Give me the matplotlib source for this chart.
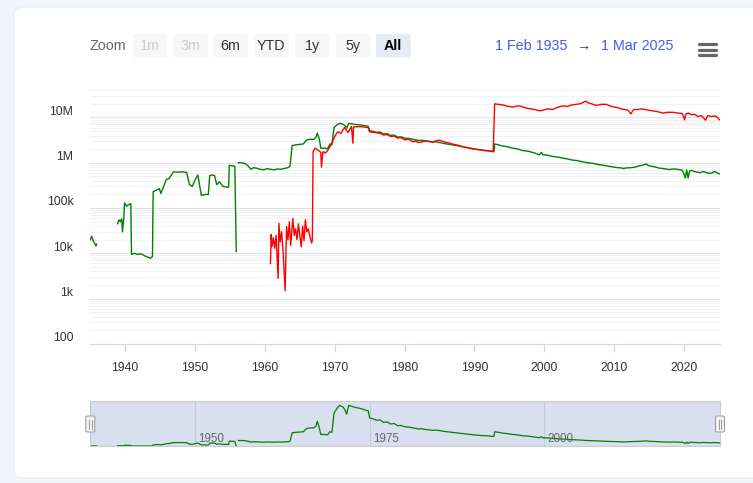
import numpy as np
import matplotlib
matplotlib.use('Agg')
import matplotlib.pyplot as plt
from matplotlib.patches import FancyBboxPatch
from matplotlib.lines import Line2D
from matplotlib.ticker import LogLocator, NullFormatter
from matplotlib.transforms import blended_transform_factory, ScaledTranslation

plt.rcParams['font.family'] = ['Liberation Sans', 'DejaVu Sans']

nan = np.nan

# green series (year, value)
green_years = [1935.0, 1935.2, 1935.4, 1935.6, 1935.8, 1935.9, 1936.5,
               1938.9, 1939.1, 1939.3, 1939.5, 1939.6, 1939.8, 1939.9, 1940.2, 1940.5, 1940.8,
               1940.9, 1941.3, 1941.8, 1942.3, 1942.8, 1943.3, 1943.6, 1943.9,
               1944.0, 1944.5, 1944.9, 1945.1, 1945.5, 1945.9, 1946.3, 1946.9, 1947.5, 1948.2,
               1948.8, 1949.2, 1949.6, 1950.0, 1950.4, 1950.9, 1951.5, 1951.9, 1952.1, 1952.5,
               1952.8, 1953.1, 1953.5, 1954.0, 1954.5, 1954.8, 1954.9, 1955.3, 1955.7, 1955.9,
               1956.0,
               1956.2, 1956.8, 1957.2, 1957.6, 1958.0, 1958.4, 1958.8, 1959.3, 1959.8, 1960.3,
               1960.8, 1961.3, 1961.8, 1962.3, 1962.8, 1963.3, 1963.6, 1963.9, 1964.5, 1965.0,
               1965.5, 1966.0, 1966.5, 1967.0, 1967.3, 1967.5, 1967.8, 1968.0, 1968.5, 1969.0,
               1969.3, 1969.6, 1969.9, 1970.3, 1970.7, 1971.2, 1971.5, 1971.7, 1972.0, 1972.5,
               1973.0, 1973.5, 1974.0, 1974.8,
               1975.0, 1975.5, 1976.0, 1976.5, 1977.0, 1977.5, 1978.0, 1978.5, 1979.0, 1979.5,
               1980.0, 1980.6, 1981.2, 1981.6, 1982.0, 1982.5, 1983.0, 1983.5, 1984.0, 1984.5,
               1985.0, 1985.5, 1986.0, 1986.5, 1987.0, 1987.5, 1988.0, 1988.5, 1989.0, 1989.5,
               1990.0, 1990.5, 1991.0, 1991.5, 1992.0, 1992.4, 1992.8, 1992.9, 1993.4, 1994.0,
               1994.5, 1995.0, 1995.5, 1996.0, 1996.5, 1997.0, 1997.5, 1998.0, 1998.6, 1999.3,
               1999.6, 1999.8, 2000.4, 2001.0, 2001.6, 2002.2, 2002.7, 2003.3, 2004.0, 2004.7,
               2005.5, 2006.2, 2006.8, 2007.4, 2008.0, 2008.5, 2009.0, 2009.6, 2010.0, 2010.5,
               2011.0, 2011.3, 2011.8, 2012.5, 2013.0, 2013.5, 2014.0, 2014.6, 2015.0, 2015.5,
               2016.0, 2016.5, 2017.2, 2017.9, 2018.5, 2019.0, 2019.5, 2019.8, 2020.2, 2020.4,
               2020.6, 2020.8, 2021.1, 2021.5, 2022.0, 2022.3, 2022.7, 2023.1, 2023.5, 2024.0,
               2024.3, 2024.6, 2024.9, 2025.1]
green_values = [20000, 24000, 19000, 17000, 14500, 16000, nan,
                45000, 55000, 50000, 58000, 30000, 60000, 130000, 110000, 120000, 125000,
                9500, 10000, 9500, 9800, 8800, 8200, 7800, 8500,
                230000, 250000, 270000, 210000, 300000, 430000, 450000, 630000, 620000, 630000,
                610000, 330000, 300000, 420000, 540000, 190000, 200000, 200000, 520000, 540000,
                520000, 330000, 380000, 300000, 290000, 290000, 880000, 860000, 830000, 11000,
                nan,
                1000000, 1000000, 950000, 850000, 720000, 780000, 760000, 720000, 700000, 740000,
                720000, 700000, 730000, 720000, 750000, 780000, 850000, 2400000, 2500000, 2550000,
                2600000, 3200000, 3300000, 3300000, 3600000, 4500000, 3300000, 2100000, 2100000, 2050000,
                2600000, 2500000, 6000000, 6800000, 7400000, 7100000, 6500000, 5800000, 7400000, 7200000,
                7000000, 6900000, 6700000, 6400000,
                5100000, 4950000, 4700000, 4750000, 4300000, 4400000, 4000000, 4100000, 3700000, 3750000,
                3500000, 3450000, 3300000, 3200000, 3100000, 3150000, 3000000, 2950000, 2850000, 2900000,
                2800000, 2700000, 2600000, 2550000, 2450000, 2400000, 2300000, 2250000, 2150000, 2100000,
                2000000, 1980000, 1900000, 1870000, 1850000, 1780000, 1750000, 2600000, 2500000, 2350000,
                2300000, 2200000, 2100000, 2050000, 1950000, 1850000, 1820000, 1750000, 1650000, 1500000,
                1700000, 1500000, 1480000, 1400000, 1350000, 1320000, 1260000, 1220000, 1150000, 1120000,
                1050000, 1000000, 980000, 940000, 900000, 880000, 850000, 820000, 800000, 780000,
                770000, 750000, 770000, 780000, 800000, 850000, 880000, 940000, 860000, 830000,
                800000, 760000, 740000, 710000, 730000, 720000, 700000, 680000, 460000, 700000,
                460000, 650000, 680000, 640000, 620000, 600000, 640000, 620000, 590000, 590000,
                640000, 620000, 580000, 570000]

# red series (year, value)
red_years = [1960.8, 1960.9, 1961.0, 1961.2, 1961.4, 1961.6, 1961.9, 1962.0, 1962.2, 1962.4,
             1962.6, 1962.9, 1963.1, 1963.3, 1963.5, 1963.7, 1964.0, 1964.2, 1964.4, 1964.6,
             1964.8, 1965.2, 1965.4, 1965.6, 1965.8, 1966.0, 1966.2, 1966.5, 1966.7, 1966.8,
             1966.9, 1967.2, 1967.6, 1968.0, 1968.1, 1968.3, 1968.7, 1969.0, 1969.5, 1970.0,
             1970.4, 1970.9, 1971.4, 1971.9, 1972.4, 1972.6, 1972.7, 1973.5, 1974.8,
             1975.0, 1975.6, 1976.0, 1976.6, 1977.0, 1977.5, 1978.0, 1978.5, 1979.0, 1979.5,
             1980.0, 1980.6, 1981.2, 1981.6, 1982.0, 1982.6, 1983.1, 1983.6, 1984.0, 1984.5,
             1985.0, 1985.5, 1986.0, 1986.5, 1987.0, 1987.6, 1988.4, 1989.0, 1989.5, 1990.0,
             1990.5, 1991.0, 1991.5, 1992.1, 1992.7,
             1992.9, 1993.5, 1994.0, 1994.6, 1995.0, 1995.5, 1996.0, 1996.5, 1997.0, 1997.5,
             1998.0, 1998.6, 1999.3, 1999.8, 2000.5, 2001.2, 2001.8, 2002.3, 2002.7, 2003.3,
             2004.0, 2004.6, 2005.1, 2005.6, 2005.9, 2006.3, 2006.8, 2007.2, 2007.5, 2008.2,
             2008.9, 2009.4, 2010.0, 2010.5, 2011.0, 2011.5, 2012.0, 2012.4, 2012.8, 2013.4,
             2014.0, 2014.6, 2015.5, 2016.2, 2017.0, 2017.6, 2018.5, 2019.2, 2019.8, 2020.1,
             2020.3, 2020.7, 2021.0, 2021.5, 2022.0, 2022.5, 2023.1, 2023.4, 2023.9, 2024.5,
             2024.8, 2025.1]
red_values = [6000, 26000, 14000, 22000, 13000, 25000, 2800, 46000, 18000, 30000,
              11000, 1500, 39000, 20000, 50000, 15000, 59000, 25000, 35000, 20000,
              45000, 14000, 40000, 19000, 55000, 30000, 35000, 22000, 17000, 20000,
              1750000, 2100000, 1900000, 1700000, 800000, 1750000, 1650000, 1900000, 2500000, 3800000,
              4800000, 4500000, 6000000, 4700000, 6300000, 2700000, 6200000, 6300000, 6000000,
              4800000, 4700000, 4600000, 4400000, 4100000, 4200000, 3800000, 3900000, 3500000, 3600000,
              3200000, 3300000, 2900000, 3000000, 2800000, 2900000, 3050000, 2950000, 2900000, 3050000,
              3150000, 2950000, 2800000, 2700000, 2550000, 2450000, 2250000, 2150000, 2050000, 2000000,
              1950000, 1920000, 1850000, 1830000, 1800000,
              20000000, 19500000, 19000000, 18000000, 17500000, 17000000, 17800000, 18000000, 17000000, 16000000,
              15500000, 15000000, 14000000, 14500000, 15500000, 15000000, 16500000, 17500000, 18000000, 17500000,
              19000000, 19500000, 20000000, 21500000, 23000000, 21000000, 20000000, 19000000, 18500000, 19500000,
              19500000, 18000000, 17000000, 16500000, 15500000, 15000000, 14500000, 12000000, 15000000, 15000000,
              15500000, 14800000, 14000000, 13500000, 12500000, 13000000, 13000000, 12500000, 12200000, 8800000,
              12000000, 12500000, 11500000, 11800000, 10500000, 11000000, 8700000, 11000000, 10500000, 10800000,
              10000000, 8900000]

y_ticks = [1e2, 1e3, 1e4, 1e5, 1e6, 1e7]
y_labels = ['100', '1k', '10k', '100k', '1M', '10M']
x_ticks = list(range(1940, 2021, 10))
nav_ticks = [1950, 1975, 2000]
buttons = ['1m', '3m', '6m', 'YTD', '1y', '5y', 'All']

W, H = 753, 483


def fx(x):
    return x / W


def fy(y):
    return 1 - y / H


fig = plt.figure(figsize=(W / 100, H / 100), dpi=100)
fig.patch.set_facecolor('#f2f5f9')

card = FancyBboxPatch((fx(14), fy(478)), fx(800 - 14), (478 - 7) / H,
                      boxstyle='round,pad=0,rounding_size=0.012', mutation_aspect=W / H,
                      transform=fig.transFigure, fc='white', ec='#e9edf2', lw=0.8, zorder=-5)
fig.add_artist(card)

# main chart
ax = fig.add_axes([fx(90.3), fy(344), (720 - 90.3) / W, (344 - 90.2) / H])
ax.patch.set_alpha(0)
ax.set_yscale('log')
ax.set_xlim(1935.0, 2025.17)
ax.set_ylim(100, 4e7)
ax.plot(green_years, green_values, color='#008000', lw=1.0)
ax.plot(red_years, red_values, color='#ff0000', lw=1.0)

ax.set_yticks(y_ticks)
ax.set_yticklabels([])
ax.yaxis.set_minor_locator(LogLocator(base=10, subs=np.arange(2, 10)))
ax.yaxis.set_minor_formatter(NullFormatter())
ax.tick_params(axis='y', which='both', length=0)
ax.grid(which='minor', axis='y', color='#f2f2f2', lw=0.8)
ax.grid(which='major', axis='y', color='#e3e3e3', lw=0.8)
ax.set_axisbelow(True)

ax.set_xticks(x_ticks)
ax.set_xticklabels([str(t) for t in x_ticks])
ax.tick_params(axis='x', length=5.8, width=0.8, color='#ccd6eb', labelsize=8.8,
               labelcolor='#333333', pad=7)
for s in ['top', 'left', 'right']:
    ax.spines[s].set_visible(False)
ax.spines['bottom'].set_color('#ccd6eb')
ax.spines['bottom'].set_linewidth(0.8)

lab_tr = blended_transform_factory(ax.transAxes, ax.transData) + \
    ScaledTranslation(-16.8 / 100, 5.8 / 100, fig.dpi_scale_trans)
for v, t in zip(y_ticks, y_labels):
    ax.text(0, v, t, transform=lab_tr, ha='right', va='center', fontsize=8.8, color='#333333')

# navigator
nav = fig.add_axes([fx(90.3), fy(446), (720 - 90.3) / W, 45 / H])
nav.set_facecolor('#d8dfee')
nav.set_xlim(1935.0, 2025.17)
nav.set_ylim(0, 8.2e6)
nav.plot(green_years, green_values, color='#008000', lw=0.9)
nav.set_xticks([])
nav.set_yticks([])
for t in nav_ticks:
    nav.axvline(t, color='#c3cbdb', lw=0.8, zorder=0)
    nav.text(t + 0.45, 0.02 * 8.2e6, str(t), ha='left', va='bottom', fontsize=8.4, color='#666666')
for s in nav.spines.values():
    s.set_color('#cccccc')
    s.set_linewidth(0.8)

for hx in [90.3, 720]:
    fig.add_artist(FancyBboxPatch((fx(hx - 4.5), fy(432)), 9 / W, 16 / H,
                                  boxstyle='round,pad=0,rounding_size=0.002',
                                  transform=fig.transFigure, fc='#f2f2f2', ec='#999999', lw=0.7))
    for dx in [-1.2, 1.2]:
        fig.add_artist(Line2D([fx(hx + dx), fx(hx + dx)], [fy(419.5), fy(428.5)],
                              transform=fig.transFigure, color='#999999', lw=0.7))

# range selector
fig.text(fx(90), fy(46), 'Zoom', ha='left', va='center', fontsize=10.3, color='#666666')
bx = [132.7, 173.3, 213.3, 254, 295, 336, 376]
for x0, b in zip(bx, buttons):
    sel = b == 'All'
    fc = '#e6ebf5' if sel else '#f7f7f7'
    fig.add_artist(FancyBboxPatch((fx(x0), fy(57.5)), 34.5 / W, 23.5 / H,
                                  boxstyle='round,pad=0,rounding_size=0.003', mutation_aspect=W / H,
                                  transform=fig.transFigure, fc=fc, ec='none'))
    if b in ('1m', '3m'):
        col = '#cccccc'
    elif sel:
        col = '#000000'
    else:
        col = '#333333'
    fig.text(fx(x0 + 17.2), fy(46), b, ha='center', va='center', fontsize=10.3, color=col,
             fontweight='bold' if sel else 'normal')

fig.text(fx(531), fy(46), '1 Feb 1935', ha='center', va='center', fontsize=10.3, color='#3d5cf2')
fig.text(fx(583), fy(46), '\u2192', ha='center', va='center', fontsize=10.3, color='#333333')
fig.text(fx(637), fy(46), '1 Mar 2025', ha='center', va='center', fontsize=10.3, color='#3d5cf2')

for yy in [44, 49.5, 55]:
    fig.add_artist(Line2D([fx(698.5), fx(715.5)], [fy(yy), fy(yy)], transform=fig.transFigure,
                          color='#666666', lw=2.3, solid_capstyle='round'))

fig.savefig('out.png', dpi=100)
